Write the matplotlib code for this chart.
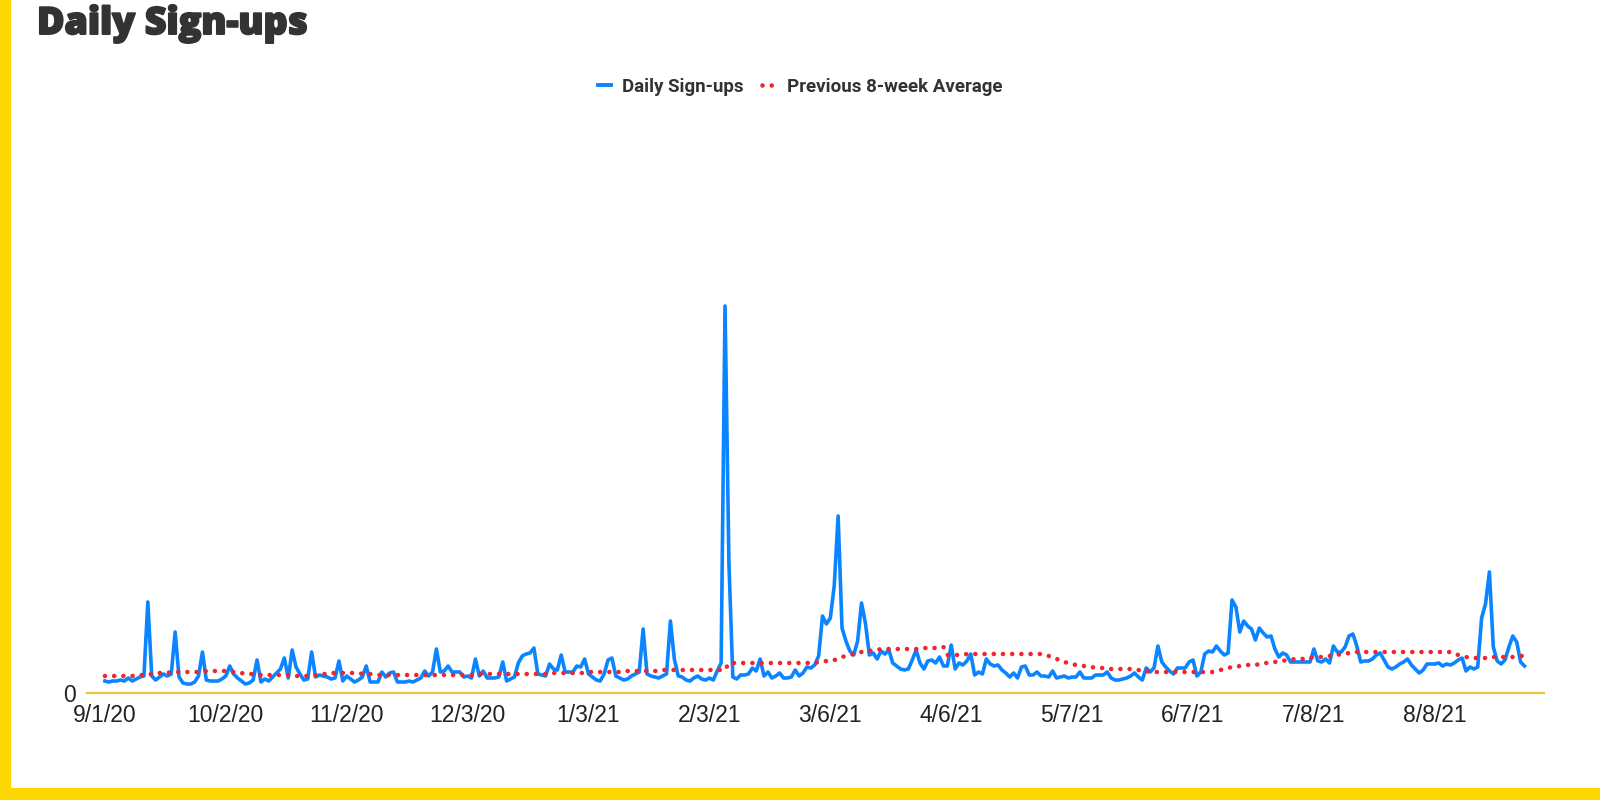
import matplotlib
matplotlib.use('Agg')
import matplotlib.pyplot as plt
import matplotlib.patheffects as pe
import pandas as pd
from matplotlib.lines import Line2D
from matplotlib.patches import Rectangle

start_date = '2020-09-01'

# Daily sign-ups (one value per day from 9/1/20)
signups = [
    12, 11, 12, 12, 13, 12, 15, 12, 14, 16,
    17, 91, 17, 13, 16, 19, 17, 19, 61, 16,
    10, 9, 9, 11, 17, 41, 13, 12, 12, 12,
    14, 17, 27, 19, 15, 12, 9, 10, 13, 33,
    11, 14, 12, 16, 20, 24, 35, 15, 43, 26,
    19, 13, 14, 41, 16, 18, 17, 16, 14, 15,
    32, 12, 17, 14, 11, 13, 16, 27, 11, 11,
    11, 21, 16, 20, 21, 11, 11, 11, 12, 11,
    13, 15, 22, 17, 21, 44, 21, 22, 27, 21,
    21, 21, 16, 17, 15, 34, 17, 22, 15, 15,
    15, 16, 31, 12, 14, 16, 30, 37, 39, 40,
    45, 19, 18, 17, 29, 24, 23, 38, 21, 21,
    21, 27, 26, 34, 19, 16, 13, 12, 19, 33,
    35, 17, 15, 13, 14, 17, 19, 21, 64, 19,
    17, 16, 15, 17, 19, 72, 34, 17, 16, 13,
    12, 15, 17, 14, 13, 15, 13, 22, 30, 387,
    130, 16, 14, 18, 18, 19, 25, 22, 34, 17,
    21, 15, 17, 20, 15, 15, 16, 23, 17, 20,
    26, 25, 28, 37, 77, 69, 75, 107, 177, 65,
    52, 42, 38, 52, 90, 70, 38, 40, 34, 42,
    39, 43, 30, 27, 24, 23, 24, 33, 43, 30,
    24, 32, 33, 30, 36, 27, 27, 48, 24, 30,
    28, 32, 39, 18, 21, 19, 34, 29, 27, 28,
    23, 20, 16, 20, 15, 26, 27, 18, 18, 21,
    17, 17, 16, 22, 15, 16, 17, 15, 16, 16,
    21, 15, 15, 15, 18, 18, 18, 21, 15, 13,
    13, 14, 15, 17, 20, 16, 13, 25, 21, 25,
    47, 31, 26, 22, 19, 25, 25, 25, 31, 33,
    17, 21, 39, 42, 41, 47, 42, 38, 40, 93,
    86, 61, 72, 67, 64, 53, 65, 60, 56, 57,
    44, 36, 40, 38, 31, 31, 31, 31, 31, 31,
    44, 32, 31, 34, 30, 47, 41, 41, 46, 57,
    59, 47, 31, 32, 32, 34, 38, 40, 33, 26,
    24, 26, 29, 31, 34, 28, 24, 20, 23, 29,
    29, 29, 30, 27, 29, 28, 30, 33, 35, 22,
    26, 24, 26, 75, 89, 121, 46, 32, 29, 33,
    46, 57, 51, 31, 27,
]

# Previous 8-week average
avg_8wk = [
    17, 17, 17, 17, 17, 17, 17, 17, 18, 18,
    18, 18, 19, 19, 20, 20, 20, 21, 21, 21,
    21, 21, 21, 21, 21, 21, 22, 22, 22, 22,
    22, 22, 21, 21, 20, 20, 19, 19, 19, 18,
    18, 18, 18, 18, 18, 18, 18, 18, 18, 17,
    17, 17, 17, 18, 18, 18, 19, 19, 20, 20,
    20, 20, 20, 20, 20, 20, 19, 19, 19, 18,
    18, 18, 18, 18, 18, 18, 18, 18, 18, 18,
    18, 18, 18, 18, 18, 18, 18, 18, 18, 18,
    18, 18, 18, 18, 18, 18, 19, 19, 19, 19,
    19, 19, 19, 19, 19, 19, 19, 19, 19, 19,
    19, 19, 19, 19, 20, 20, 20, 20, 20, 20,
    20, 20, 20, 20, 21, 21, 21, 21, 21, 21,
    21, 21, 21, 22, 22, 22, 22, 22, 22, 22,
    22, 22, 22, 23, 23, 23, 23, 23, 23, 23,
    23, 23, 23, 23, 23, 23, 23, 23, 23, 23,
    30, 30, 30, 30, 30, 30, 30, 30, 30, 30,
    30, 30, 30, 30, 30, 30, 30, 30, 30, 30,
    30, 30, 30, 31, 31, 32, 32, 33, 34, 36,
    37, 38, 39, 40, 41, 42, 42, 43, 43, 44,
    44, 44, 44, 44, 44, 44, 44, 44, 44, 45,
    45, 45, 45, 45, 46, 46, 38, 38, 38, 38,
    38, 39, 39, 39, 39, 39, 39, 39, 39, 39,
    39, 39, 39, 39, 39, 39, 39, 39, 39, 39,
    39, 38, 37, 36, 34, 33, 31, 30, 29, 28,
    27, 27, 26, 26, 25, 25, 25, 24, 24, 24,
    24, 24, 24, 24, 24, 23, 22, 22, 21, 21,
    21, 21, 21, 21, 21, 21, 21, 21, 21, 21,
    21, 21, 21, 21, 21, 22, 23, 24, 25, 26,
    26, 27, 27, 28, 28, 28, 29, 30, 30, 31,
    31, 32, 32, 33, 33, 34, 34, 34, 35, 35,
    36, 36, 36, 37, 37, 38, 38, 39, 39, 40,
    40, 41, 41, 41, 41, 41, 41, 41, 41, 41,
    41, 41, 41, 41, 41, 41, 41, 41, 41, 41,
    41, 41, 41, 41, 41, 41, 40, 38, 37, 36,
    35, 35, 35, 35, 35, 35, 36, 36, 36, 36,
    36, 36, 36, 37, 37,
]

tick_dates = ['2020-09-01', '2020-10-02', '2020-11-02', '2020-12-03',
              '2021-01-03', '2021-02-03', '2021-03-06', '2021-04-06',
              '2021-05-07', '2021-06-07', '2021-07-08', '2021-08-08']
tick_labels = ['9/1/20', '10/2/20', '11/2/20', '12/3/20', '1/3/21', '2/3/21',
               '3/6/21', '4/6/21', '5/7/21', '6/7/21', '7/8/21', '8/8/21']

series_names = ['Daily Sign-ups', 'Previous 8-week Average']
title = 'Daily Sign-ups'

BLUE = '#0a84ff'
RED = '#f0262e'
YELLOW = '#FFD700'
BASE = '#e6c73a'
TEXT = '#333333'

dates_a = pd.date_range(start_date, periods=len(signups), freq='D')
dates_b = pd.date_range(start_date, periods=len(avg_8wk), freq='D')

fig = plt.figure(figsize=(16, 8), dpi=100)
fig.patch.set_facecolor('white')

ax = fig.add_axes([87/1600, 1 - 693/800, (1544 - 87)/1600, (693 - 110)/800])

red_ls = (0, (0.01, 2.0))
ax.plot(dates_a, signups, color=BLUE, lw=2.6, zorder=3, solid_joinstyle='round')
ax.plot(dates_b, avg_8wk, color=RED, lw=3.3, linestyle=red_ls,
        dash_capstyle='round', zorder=4)

t0 = pd.Timestamp(start_date)
ax.set_xlim(t0 - pd.Timedelta(days=4.6), t0 + pd.Timedelta(days=369))
ax.set_ylim(0, 583)

ax.set_xticks(pd.to_datetime(tick_dates))
ax.set_xticklabels(tick_labels)
ax.set_yticks([0])
ax.set_yticklabels(['0'])
ax.tick_params(axis='both', length=0, labelsize=16.5, labelcolor='#222222')
ax.tick_params(axis='x', pad=8)
ax.tick_params(axis='y', pad=8)
for lab in ax.get_xticklabels() + ax.get_yticklabels():
    lab.set_fontfamily('Liberation Sans')

for s in ['top', 'right', 'left']:
    ax.spines[s].set_visible(False)
ax.spines['bottom'].set_color(BASE)
ax.spines['bottom'].set_linewidth(1.6)
ax.spines['bottom'].set_zorder(2)

# Title
fig.text(37/1600, 1 - 34/800, title, fontsize=27, fontweight='heavy',
         family=['Open Sans', 'Lato', 'DejaVu Sans'], color=TEXT,
         va='baseline', ha='left',
         path_effects=[pe.withStroke(linewidth=1.4, foreground=TEXT)])

# Legend
handles = [Line2D([], [], color=BLUE, lw=2.8),
           Line2D([], [], color=RED, lw=3.3, linestyle=red_ls, dash_capstyle='round')]
leg = fig.legend(handles, series_names, loc='center', bbox_to_anchor=(0.5, 1 - 87/800),
                 ncol=2, frameon=False, handlelength=0.7, handletextpad=0.6,
                 columnspacing=1.0,
                 prop=dict(family='Roboto', weight='bold', size=13.5))
for t in leg.get_texts():
    t.set_color(TEXT)

# Yellow frame (left and bottom)
fig.patches.append(Rectangle((0, 0), 11/1600, 1, transform=fig.transFigure,
                             facecolor=YELLOW, edgecolor='none', zorder=0))
fig.patches.append(Rectangle((0, 0), 1, 12/800, transform=fig.transFigure,
                             facecolor=YELLOW, edgecolor='none', zorder=0))

fig.savefig('out.png', dpi=100, facecolor='white')
